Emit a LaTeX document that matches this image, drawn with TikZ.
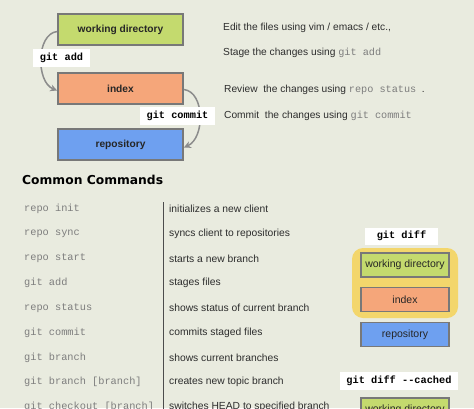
\documentclass[tikz,border=0pt]{standalone}
\usepackage{fontspec}
\setmainfont{Liberation Sans}
\setmonofont{Liberation Mono}
\newfontfamily\headfont{DejaVu Sans}
\usetikzlibrary{arrows.meta}
\definecolor{bg}{RGB}{233,235,223}
\definecolor{wdgreen}{RGB}{196,218,110}
\definecolor{idxorange}{RGB}{245,166,122}
\definecolor{repoblue}{RGB}{110,160,240}
\definecolor{diffyellow}{RGB}{243,214,108}
\definecolor{boxborder}{RGB}{120,120,120}
\definecolor{arrowgrey}{RGB}{140,140,140}
\definecolor{cmdgrey}{RGB}{125,125,125}
\definecolor{txtdark}{RGB}{45,45,45}
\tikzset{
  bigbox/.style={draw=boxborder, line width=1.8pt, minimum width=125pt, minimum height=31pt, inner sep=0pt, font=\fontsize{10.2}{12}\selectfont\bfseries, text=black!85},
  smallbox/.style={draw=boxborder, line width=1.8pt, minimum width=88pt, minimum height=24pt, inner sep=0pt, font=\fontsize{10.5}{12}\selectfont, text=black!85},
  cmdlabel/.style={fill=white, inner sep=0pt, minimum height=18pt, font=\fontsize{10.3}{12}\selectfont\ttfamily\bfseries, text=black},
  flow/.style={draw=arrowgrey, line width=1.5pt, -{Stealth[length=7pt,width=7pt]}},
  righttext/.style={anchor=west, inner sep=0pt, font=\fontsize{10.2}{12}\selectfont, text=txtdark},
  cmd/.style={anchor=west, inner sep=0pt, font=\fontsize{10.3}{12}\selectfont\ttfamily, text=cmdgrey},
  desc/.style={anchor=west, inner sep=0pt, font=\fontsize{10.3}{12}\selectfont, text=txtdark},
}
\begin{document}
\begin{tikzpicture}[x=1pt,y=-1pt]
\useasboundingbox (0,0) rectangle (474,408);
\clip (0,0) rectangle (474,408);
\fill[bg] (0,0) rectangle (474,408);

% top flow
\node[bigbox, fill=wdgreen] (wd) at (120.5,29.5) {working directory};
\node[bigbox, fill=idxorange] (idx) at (120.5,88.5) {index};
\node[bigbox, fill=repoblue] (repo) at (120.5,144.5) {repository};

\draw[flow] ([yshift=-2pt]wd.west) .. controls (36,34) and (36,82) .. ([yshift=-2pt]idx.west);
\draw[flow] ([yshift=-1pt]idx.east) .. controls (205,92) and (205,138) .. ([yshift=-3pt]repo.east);

\node[cmdlabel, minimum width=57pt] (lbladd) at (61.5,58) {git add};
\node[cmdlabel, minimum width=75pt] (lblcommit) at (177.5,116) {git commit};

\node[righttext] (t1) at (223,28) {Edit the files using vim / emacs / etc.,};
\node[righttext] (t2) at (223,53) {Stage the changes using \textcolor{cmdgrey}{\ttfamily git add}};
\node[righttext] (t3) at (224,90) {Review\ \ the changes using \textcolor{cmdgrey}{\ttfamily repo status} \ .};
\node[righttext] (t4) at (224,116) {Commit\ \ the changes using \textcolor{cmdgrey}{\ttfamily git commit}};

% common commands
\node[anchor=west, inner sep=0pt, font=\headfont\fontsize{12.3}{14}\selectfont\bfseries, text=black] (head) at (22,180) {Common Commands};

\coordinate (vtop) at (163,202);
\coordinate (vbot) at (163,410);
\draw[line width=1pt, draw=black!70] (vtop) -- (vbot);

\foreach \c/\d [count=\i from 0] in {
  repo init/initializes a new client,
  repo sync/syncs client to repositories,
  repo start/starts a new branch,
  git add/stages files,
  repo status/shows status of current branch,
  git commit/commits staged files,
  git branch/shows current branches,
  git branch [branch]/creates new topic branch,
  git checkout [branch]/switches HEAD to specified branch}{
  \node[cmd] (c\i) at (24,{209+24.75*\i}) {\c};
  \node[desc] (d\i) at (169,{209+24.75*\i}) {\d};
}

% git diff
\node[cmdlabel, minimum width=73pt, minimum height=17pt] (lbldiff) at (401.5,236) {git diff};
\node[fill=diffyellow, rounded corners=11pt, minimum width=106pt, minimum height=70pt, inner sep=0pt] (ybox) at (405,283) {};
\node[smallbox, fill=wdgreen] (swd) at (405,265) {working directory};
\node[smallbox, fill=idxorange] (sidx) at (405,299.5) {index};
\node[smallbox, fill=repoblue] (srepo) at (405,334.5) {repository};

\node[cmdlabel, minimum width=118pt] (lblcached) at (399,381) {git diff -{}-cached};
\node[smallbox, fill=wdgreen] (swd2) at (405,410) {working directory};
\end{tikzpicture}
\end{document}
